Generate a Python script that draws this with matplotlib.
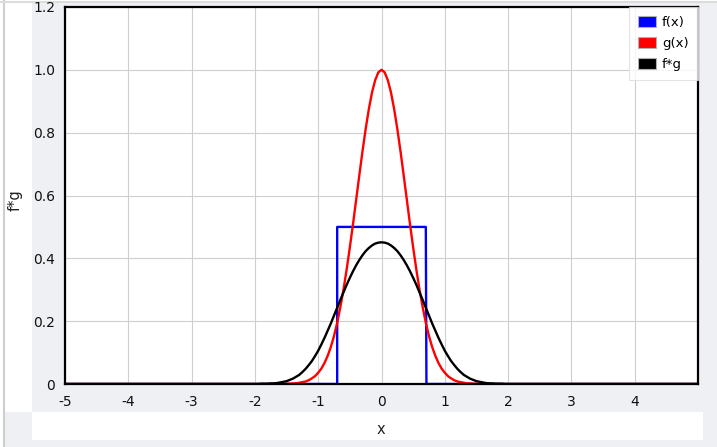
import matplotlib
matplotlib.use("Agg")
import matplotlib.pyplot as plt
from matplotlib.patches import Patch, Rectangle
from matplotlib.lines import Line2D

# ---- data ----
x_vals = [-5.0,
          -2.0, -1.95, -1.9, -1.85, -1.8, -1.75, -1.7, -1.65, -1.6, -1.55,
          -1.5, -1.45, -1.4, -1.35, -1.3, -1.25, -1.2, -1.15, -1.1, -1.05,
          -1.0, -0.95, -0.9, -0.85, -0.8, -0.75, -0.7, -0.65, -0.6, -0.55,
          -0.5, -0.45, -0.4, -0.35, -0.3, -0.25, -0.2, -0.15, -0.1, -0.05,
          0.0,
          0.05, 0.1, 0.15, 0.2, 0.25, 0.3, 0.35, 0.4, 0.45, 0.5,
          0.55, 0.6, 0.65, 0.7, 0.75, 0.8, 0.85, 0.9, 0.95, 1.0,
          1.05, 1.1, 1.15, 1.2, 1.25, 1.3, 1.35, 1.4, 1.45, 1.5,
          1.55, 1.6, 1.65, 1.7, 1.75, 1.8, 1.85, 1.9, 1.95, 2.0,
          5.0]

g_vals = [0.0,
          0.000, 0.000, 0.000, 0.000, 0.000, 0.000, 0.000, 0.000, 0.000, 0.000,
          0.001, 0.001, 0.002, 0.002, 0.004, 0.006, 0.008, 0.012, 0.018, 0.025,
          0.036, 0.049, 0.067, 0.090, 0.118, 0.153, 0.195, 0.245, 0.301, 0.365,
          0.435, 0.509, 0.587, 0.665, 0.741, 0.812, 0.875, 0.928, 0.967, 0.992,
          1.000,
          0.992, 0.967, 0.928, 0.875, 0.812, 0.741, 0.665, 0.587, 0.509, 0.435,
          0.365, 0.301, 0.245, 0.195, 0.153, 0.118, 0.090, 0.067, 0.049, 0.036,
          0.025, 0.018, 0.012, 0.008, 0.006, 0.004, 0.002, 0.002, 0.001, 0.001,
          0.000, 0.000, 0.000, 0.000, 0.000, 0.000, 0.000, 0.000, 0.000, 0.000,
          0.0]

fg_vals = [0.0,
           0.000, 0.000, 0.001, 0.001, 0.001, 0.002, 0.002, 0.003, 0.005, 0.007,
           0.009, 0.013, 0.017, 0.023, 0.029, 0.038, 0.048, 0.060, 0.073, 0.089,
           0.106, 0.126, 0.147, 0.170, 0.193, 0.218, 0.243, 0.268, 0.292, 0.316,
           0.338, 0.359, 0.378, 0.395, 0.410, 0.423, 0.433, 0.441, 0.447, 0.450,
           0.451,
           0.450, 0.447, 0.441, 0.433, 0.423, 0.410, 0.395, 0.378, 0.359, 0.338,
           0.316, 0.292, 0.268, 0.243, 0.218, 0.193, 0.170, 0.147, 0.126, 0.106,
           0.089, 0.073, 0.060, 0.048, 0.038, 0.029, 0.023, 0.017, 0.013, 0.009,
           0.007, 0.005, 0.003, 0.002, 0.002, 0.001, 0.001, 0.001, 0.000, 0.000,
           0.0]

f_x = [-5.0, -0.7, -0.7, 0.7, 0.71, 5.0]
f_y = [0.0, 0.0, 0.5, 0.5, 0.0, 0.0]

x_ticks = [-5, -4, -3, -2, -1, 0, 1, 2, 3, 4]
x_tick_labels = ["-5", "-4", "-3", "-2", "-1", "0", "1", "2", "3", "4"]
y_ticks = [0, 0.2, 0.4, 0.6, 0.8, 1.0, 1.2]
y_tick_labels = ["0", "0.2", "0.4", "0.6", "0.8", "1.0", "1.2"]

series_names = ["f(x)", "g(x)", "f*g"]
series_colors = ["#0000ff", "#ff0000", "#000000"]

# ---- figure ----
W, H = 717, 447
fig = plt.figure(figsize=(W / 100, H / 100), dpi=100)
fig.patch.set_facecolor("white")

def px_rect(x0, y0, x1, y1, color, z=0):
    fig.patches.append(Rectangle((x0 / W, 1 - y1 / H), (x1 - x0) / W, (y1 - y0) / H,
                                 transform=fig.transFigure, facecolor=color,
                                 edgecolor="none", zorder=z))

panel = "#eff0f3"
px_rect(32, 3, W, 412, panel, z=-3)
px_rect(4, 412, W, H, panel, z=-3)
px_rect(32, 412, 703, 440, "white", z=-2)
fig.lines.append(Line2D([3.5 / W, 3.5 / W], [0, 1], transform=fig.transFigure,
                        color="#cfcfcf", linewidth=1.5, zorder=-1))
fig.lines.append(Line2D([0, 1], [1 - 1.5 / H, 1 - 1.5 / H], transform=fig.transFigure,
                        color="#dcdcdc", linewidth=1.5, zorder=-1))

ax = fig.add_axes([65 / W, 1 - 384 / H, (698 - 65) / W, (384 - 7) / H])
ax.set_zorder(5)
ax.set_facecolor("white")
ax.set_xlim(-5, 5)
ax.set_ylim(0, 1.2)

ax.plot(f_x, f_y, color=series_colors[0], linewidth=1.7, zorder=3)
ax.plot(x_vals, g_vals, color=series_colors[1], linewidth=1.7, zorder=4)
ax.plot(x_vals, fg_vals, color=series_colors[2], linewidth=1.7, zorder=5)

ax.set_xticks(x_ticks)
ax.set_xticklabels(x_tick_labels)
ax.set_yticks(y_ticks)
ax.set_yticklabels(y_tick_labels)
ax.tick_params(axis="both", length=0, labelsize=10, colors="#111111", pad=7)
ax.tick_params(axis="x", pad=8)
ax.grid(True, color="#cfcfcf", linewidth=0.8)
ax.set_axisbelow(True)
for s in ax.spines.values():
    s.set_linewidth(1.6)
    s.set_color("black")
    s.set_zorder(6)

fig.text(381 / W, 1 - 430 / H, "x", ha="center", va="center", fontsize=10.5,
         color="#222222", zorder=3)
fig.text(15 / W, 1 - 200 / H, "f*g", ha="center", va="center", rotation=90,
         fontsize=10.5, color="#222222")

handles = [Patch(facecolor=c, edgecolor="#b0b0b0", linewidth=0.8) for c in series_colors]
leg = ax.legend(handles, series_names, loc="upper right", fontsize=9.5,
                frameon=True, fancybox=False,
                borderaxespad=0.0, borderpad=0.7, handlelength=1.3, handleheight=0.9,
                handletextpad=0.5, labelspacing=0.6)
frame = leg.get_frame()
frame.set_facecolor((1, 1, 1, 0.0))
frame.set_edgecolor("#dddddd")
frame.set_linewidth(0.8)
leg.set_zorder(7)

fig.savefig("out.png", dpi=100, facecolor=fig.get_facecolor())
